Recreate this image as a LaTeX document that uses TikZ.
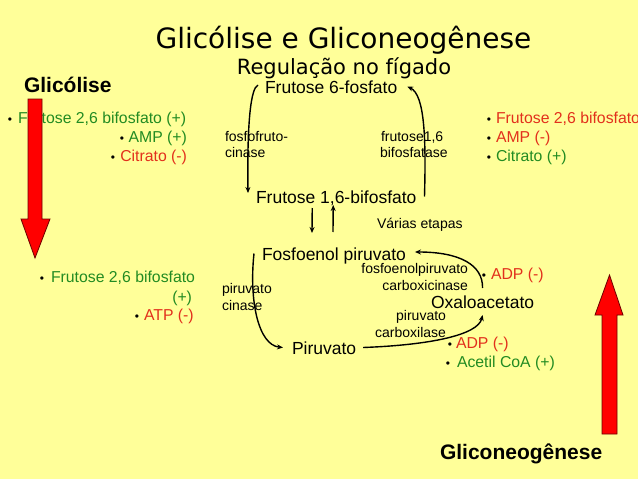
\documentclass[tikz,border=0pt]{standalone}
\usepackage{fontspec}
\setmainfont{Liberation Sans}
\newfontfamily\titlefont{DejaVu Sans}
\usetikzlibrary{arrows.meta}
\definecolor{bg}{RGB}{255,255,153}
\definecolor{grn}{RGB}{34,139,34}
\definecolor{rd}{RGB}{226,48,28}
\definecolor{arrred}{RGB}{255,0,0}
\definecolor{arredge}{RGB}{110,0,0}
\begin{document}
\begin{tikzpicture}[x=1pt,y=-1pt,
  every node/.style={inner sep=0pt, outer sep=0pt},
  main/.style={font=\fontsize{17.5}{20}\selectfont, text height=13pt, text depth=0pt, anchor=base west},
  small/.style={font=\fontsize{14}{16}\selectfont, anchor=base west},
  smallr/.style={font=\fontsize{14}{16}\selectfont, anchor=base east},
  item/.style={font=\fontsize{15.8}{18}\selectfont, anchor=base west},
  itemr/.style={font=\fontsize{15.8}{18}\selectfont, anchor=base east},
  bul/.style={font=\fontsize{12}{14}\selectfont, anchor=base},
  headtxt/.style={font=\bfseries\fontsize{21}{24}\selectfont, anchor=base west},
  flow/.style={line width=1.4pt, -{Stealth[length=6pt,width=5pt]}},
  bigarrow/.style={fill=arrred, draw=arredge, line width=0.8pt}
]
\fill[bg] (0,0) rectangle (638,479);
\useasboundingbox (0,0) rectangle (638,479);
\clip (0,0) rectangle (638,479);

% titles
\node[font=\titlefont\fontsize{28}{31}\selectfont, anchor=base] (title) at (343.5,48) {Glicólise e Gliconeogênese};
\node[font=\titlefont\fontsize{21}{24}\selectfont, anchor=base] (sub) at (344,74) {Regulação no fígado};
\node[headtxt] (glic) at (24,92) {Glicólise};
\node[headtxt] (glicn) at (440,459) {Gliconeogênese};

% left regulators (glycolysis)
\node[bul] (b1) at (10,123) {•};
\node[item, text=grn] (l1) at (18,123) {Frutose 2,6 bifosfato (+)};
\node[bul] (b2) at (122,142) {•};
\node[itemr, text=grn] (l2) at (187,142) {AMP (+)};
\node[bul] (b3) at (113,161) {•};
\node[itemr, text=rd] (l3) at (187,161) {Citrato (-)};

% right regulators
\node[bul] (r1b) at (489,123) {•};
\node[item, text=rd] (r1) at (496,123) {Frutose 2,6 bifosfato};
\node[bul] (r2b) at (489,142) {•};
\node[item, text=rd] (r2) at (496,142) {AMP (-)};
\node[bul] (r3b) at (489,161) {•};
\node[item, text=grn] (r3) at (496,161) {Citrato (+)};

% lower left regulators
\node[bul] (d1b) at (42,282) {•};
\node[item, text=grn] (d1) at (51,282) {Frutose 2,6 bifosfato};
\node[itemr, text=grn] (d1b2) at (192,302) {(+)};
\node[bul] (d2b) at (137,320) {•};
\node[item, text=rd] (d2) at (144,320) {ATP (-)};

% lower right regulators
\node[bul] (e1b) at (484,279) {•};
\node[item, text=rd] (e1) at (491,279) {ADP (-)};
\node[bul] (e2b) at (450,348) {•};
\node[item, text=rd] (e2) at (456,348) {ADP (-)};
\node[bul] (e3b) at (448,367) {•};
\node[item, text=grn] (e3) at (457,367) {Acetil CoA (+)};

% enzyme labels
\node[small] (pfk1) at (225,141) {fosfofruto-};
\node[small] (pfk2) at (225,157) {cinase};
\node[small] (fbp1) at (381,141) {frutose1,6};
\node[small] (fbp2) at (380,157) {bifosfatase};
\node[small] (varias) at (377,228) {Várias etapas};
\node[small] (pk1) at (222,293) {piruvato};
\node[small] (pk2) at (222,310) {cinase};
\node[smallr] (pepck1) at (468,273) {fosfoenolpiruvato};
\node[smallr] (pepck2) at (468,290) {carboxicinase};
\node[smallr] (pc1) at (446,320) {piruvato};
\node[smallr] (pc2) at (446,337) {carboxilase};

% metabolites
\node[main] (f6p) at (265,93) {Frutose 6-fosfato};
\node[main] (f16) at (256,203) {Frutose 1,6-bifosfato};
\node[main] (fp) at (262,260) {Fosfoenol piruvato};
\node[main] (pir) at (292,354) {Piruvato};
\node[main] (oxa) at (431,308) {Oxaloacetato};

% connectors
\draw[flow] ([xshift=-7pt,yshift=1.5pt]f6p.west) .. controls (251,88) and (247,120) .. ([xshift=-8pt,yshift=3.5pt]f16.west);
\draw[flow] ([xshift=8pt]f16.east) .. controls (426,140) and (425,95) .. ([xshift=10pt]f6p.east);
\draw[flow] ([xshift=-24pt,yshift=-5pt]f16.south) -- ([xshift=-22pt,yshift=14pt]fp.north);
\draw[flow] ([xshift=-1pt,yshift=15pt]fp.north) -- ([xshift=-3pt,yshift=-2pt]f16.south);
\draw[flow] ([xshift=-8pt]fp.west) .. controls (249,300) and (258,345) .. ([xshift=-9pt]pir.west);
\draw[flow] ([xshift=7pt]pir.east) .. controls (430,345) and (478,335) .. ([yshift=-7pt]oxa.south);
\draw[flow] ([yshift=7pt]oxa.north) .. controls (483,265) and (460,252) .. ([xshift=9pt,yshift=1.5pt]fp.east);

% big arrows
\draw[bigarrow] (28,99) -- (42,99) -- (42,219) -- (50,219) -- (35,258) -- (21,219) -- (28,219) -- cycle;
\draw[bigarrow] (602,434) -- (617,434) -- (617,315) -- (623,315) -- (609.5,275) -- (595,315) -- (602,315) -- cycle;
\end{tikzpicture}
\end{document}
